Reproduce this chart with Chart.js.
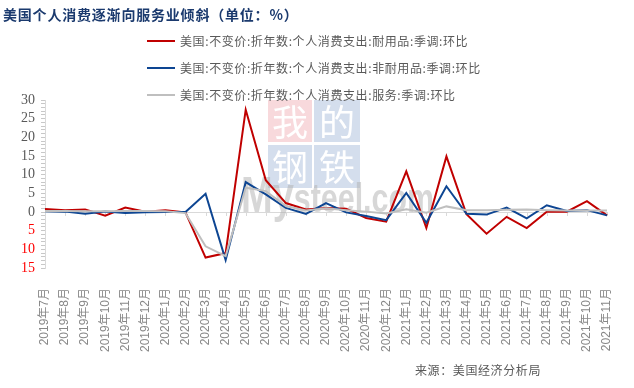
<!DOCTYPE html>
<html>
<head>
<meta charset="utf-8">
<script src="https://cdn.jsdelivr.net/npm/chart.js@4"></script>
<style>
  body { margin: 0; background: #fff; }
</style>
</head>
<body>
<canvas id="myChart" width="634" height="388"></canvas>
<script>
// months on the x axis
var months = ['2019年7月', '2019年8月', '2019年9月', '2019年10月', '2019年11月', '2019年12月',
  '2020年1月', '2020年2月', '2020年3月', '2020年4月', '2020年5月', '2020年6月', '2020年7月',
  '2020年8月', '2020年9月', '2020年10月', '2020年11月', '2020年12月',
  '2021年1月', '2021年2月', '2021年3月', '2021年4月', '2021年5月', '2021年6月', '2021年7月',
  '2021年8月', '2021年9月', '2021年10月', '2021年11月']

// series names
var name_durable = '美国:不变价:折年数:个人消费支出:耐用品:季调:环比'
var name_nondurable = '美国:不变价:折年数:个人消费支出:非耐用品:季调:环比'
var name_services = '美国:不变价:折年数:个人消费支出:服务:季调:环比'

// values, %
var durable = [0.8, 0.5, 0.7, -1.0, 1.2, 0.1, 0.5, -0.1, -12.2, -11.0, 27.4, 8.5, 2.4, 0.7, 1.1,
  0.9, -1.6, -2.6, 10.9, -4.3, 14.9, -0.6, -5.8, -1.3, -4.3, 0.1, 0.1, 2.9, -0.9]
var nondurable = [0.2, 0.1, -0.5, 0.1, -0.3, -0.1, 0.0, 0.0, 4.9, -12.9, 8.0, 4.7, 1.1, -0.5, 2.4,
  -0.1, -1.1, -2.2, 5.1, -2.9, 6.9, -0.5, -0.7, 1.2, -1.7, 1.8, 0.3, 0.5, -0.9]
var services = [0.3, 0.3, 0.2, 0.2, 0.3, 0.3, 0.2, -0.3, -9.2, -11.8, 6.5, 5.6, 1.6, 0.4, 1.0,
  0.5, 0.1, -0.4, 0.7, -0.2, 1.5, 0.5, 0.5, 0.6, 0.7, 0.5, 0.4, 0.4, 0.4]

// y axis range
var y_min = -15
var y_max = 30

var cjk = '"Noto Sans CJK SC", "Liberation Sans", sans-serif'

// title, legend, source note and the watermark are drawn on the canvas
var extras = {
  id: 'extras',
  beforeDatasetsDraw: function(chart) {
    var ctx = chart.ctx
    ctx.save()
    // watermark boxes
    ctx.fillStyle = '#f8d9dc'
    ctx.fillRect(268, 100, 44, 42)
    ctx.fillStyle = '#d4deed'
    ctx.fillRect(314, 100, 46, 42)
    ctx.fillRect(268, 145, 44, 43)
    ctx.fillRect(314, 145, 46, 43)
    ctx.fillStyle = '#ffffff'
    ctx.font = '36px ' + cjk
    ctx.textAlign = 'center'
    ctx.textBaseline = 'middle'
    ctx.fillText('我', 290, 122)
    ctx.fillText('的', 337, 122)
    ctx.fillText('钢', 290, 167)
    ctx.fillText('铁', 337, 167)
    // Mysteel.com
    ctx.fillStyle = 'rgba(175,175,175,0.5)'
    ctx.textAlign = 'left'
    ctx.textBaseline = 'alphabetic'
    ctx.translate(241, 212)
    ctx.scale(0.76, 1)
    ctx.font = 'bold 50px "Liberation Sans"'
    ctx.fillText('My', 0, 0)
    var w = ctx.measureText('My').width
    ctx.font = 'bold 40px "Liberation Sans"'
    ctx.fillText('steel.com', w, 0)
    ctx.restore()

    // small category ticks on the zero line
    var x = chart.scales.x
    var y0 = chart.scales.y.getPixelForValue(0)
    ctx.save()
    ctx.strokeStyle = '#d9d9d9'
    ctx.lineWidth = 1
    for (let i = 0; i < months.length; i++) {
      var px = Math.round(x.getPixelForValue(i)) + 0.5
      ctx.beginPath()
      ctx.moveTo(px, y0)
      ctx.lineTo(px, y0 + 4)
      ctx.stroke()
    }
    ctx.restore()
  },
  afterDraw: function(chart) {
    var ctx = chart.ctx
    ctx.save()
    // title
    ctx.fillStyle = '#1b3a6e'
    ctx.font = 'bold 14px ' + cjk
    ctx.textBaseline = 'middle'
    ctx.letterSpacing = '0.8px'
    ctx.fillText('美国个人消费逐渐向服务业倾斜（单位：%）', 3, 15)

    // legend, one entry per row
    var sets = chart.data.datasets
    var rows = [41, 68, 95]
    ctx.font = '12px ' + cjk
    ctx.letterSpacing = '0.6px'
    for (let i = 0; i < sets.length; i++) {
      ctx.strokeStyle = sets[i].borderColor
      ctx.lineWidth = 2
      ctx.beginPath()
      ctx.moveTo(147, rows[i])
      ctx.lineTo(175, rows[i])
      ctx.stroke()
      ctx.fillStyle = '#595959'
      ctx.fillText(sets[i].label, 180, rows[i])
    }

    // source
    ctx.fillStyle = '#595959'
    ctx.font = '12px ' + cjk
    ctx.fillText('来源：美国经济分析局', 415, 370)
    ctx.restore()
  }
}

const ctx = document.getElementById('myChart')

new Chart(ctx, {
  type: 'line',
  data: {
    labels: months,
    datasets: [{
      label: name_durable,
      data: durable,
      borderColor: '#c00000',
      borderWidth: 2,
      order: 2
    }, {
      label: name_nondurable,
      data: nondurable,
      borderColor: '#0d4592',
      borderWidth: 2,
      order: 1
    }, {
      label: name_services,
      data: services,
      borderColor: '#bfbfbf',
      borderWidth: 2,
      order: 0
    }]
  },
  options: {
    responsive: false,
    animation: false,
    elements: {
      point: { radius: 0 },
      line: { tension: 0 }
    },
    layout: {
      padding: { top: 100, left: 0, right: 27, bottom: 0 }
    },
    plugins: {
      legend: { display: false },
      title: { display: false },
      tooltip: { enabled: false }
    },
    scales: {
      x: {
        offset: false,
        grid: { display: false },
        border: { display: false },
        ticks: {
          autoSkip: false,
          maxRotation: 90,
          minRotation: 90,
          padding: 12,
          color: '#888888',
          font: { family: '"Liberation Sans", "Noto Sans CJK SC"', size: 12 }
        },
        afterFit: function(scale) { scale.height = 120 }
      },
      y: {
        min: y_min,
        max: y_max,
        border: { display: true, color: '#d9d9d9' },
        grid: {
          color: function(c) { return c.tick && c.tick.value === 0 ? '#d9d9d9' : 'rgba(0,0,0,0)' },
          tickColor: '#c8c8c8',
          tickLength: 4
        },
        ticks: {
          stepSize: 1,
          autoSkip: false,
          padding: 6,
          callback: function(v) { return v % 5 === 0 ? String(Math.abs(v)) : '' },
          color: function(c) { return c.tick && c.tick.value < 0 ? '#ff0000' : '#595959' },
          font: { family: '"Liberation Serif", serif', size: 14 }
        },
        afterFit: function(scale) { scale.width = 45 }
      }
    }
  },
  plugins: [extras]
});
</script>
</body>
</html>
